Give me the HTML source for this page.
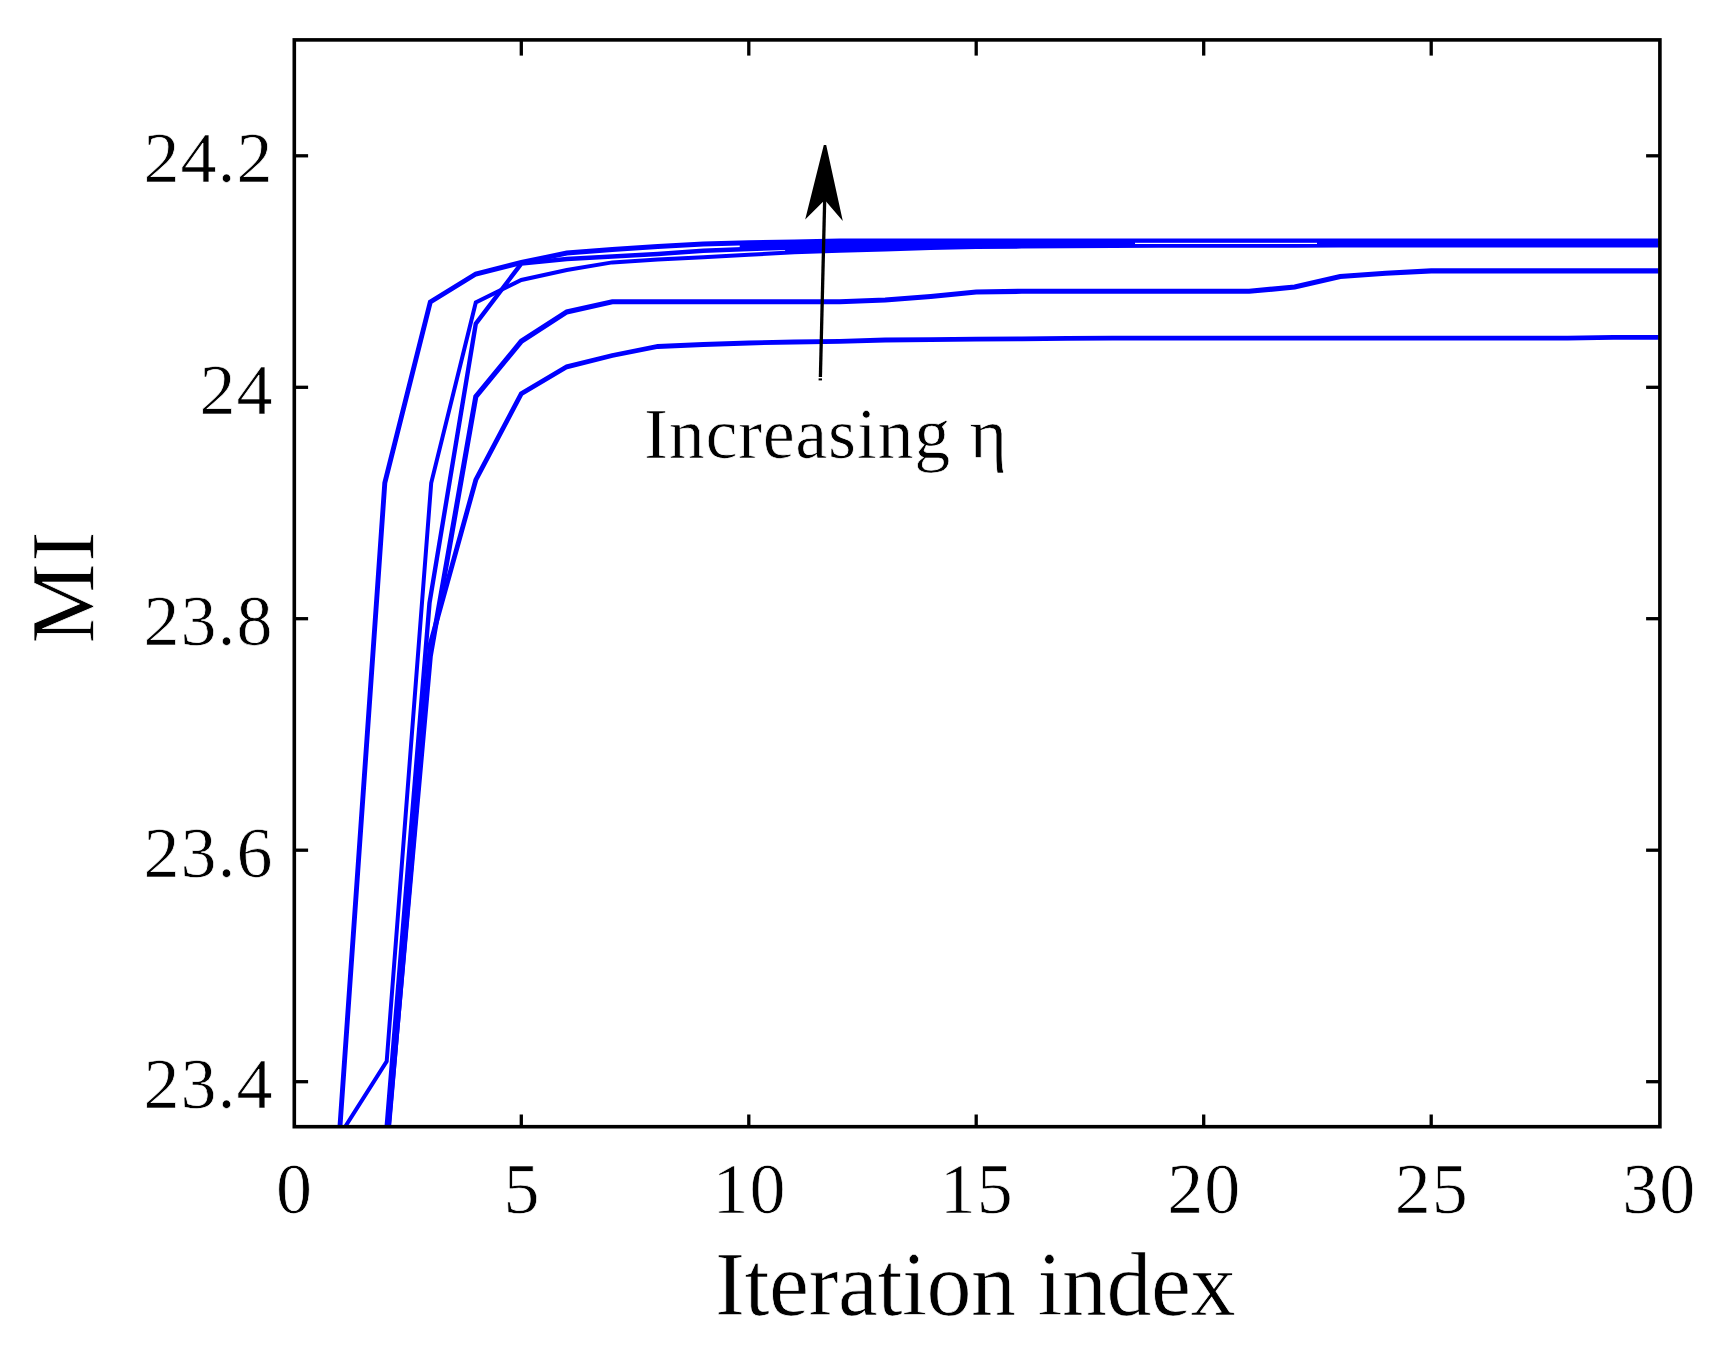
<!DOCTYPE html>
<html lang="en">
<head>
<meta charset="utf-8">
<title>MI versus iteration index</title>
<style>
html,body{margin:0;padding:0;background:#fff;}
body{width:1720px;height:1358px;overflow:hidden;}
svg{display:block;}
text{font-family:"Liberation Serif","Times New Roman",serif;fill:#000;stroke:#fff;stroke-width:0.7px;}
.tick text{font-size:72px;letter-spacing:1px;}
.lab{font-size:90px;letter-spacing:-0.5px;}
.ann{font-size:72px;letter-spacing:0.7px;}
</style>
</head>
<body>
<svg width="1720" height="1358" viewBox="0 0 1720 1358">
<rect x="0" y="0" width="1720" height="1358" fill="#fff"/>
<defs><clipPath id="ax"><rect x="294.3" y="39.9" width="1365.6000000000001" height="1086.8"/></clipPath></defs>
<g clip-path="url(#ax)" fill="none" stroke="#0000ff" stroke-width="4.6" stroke-linejoin="miter" stroke-linecap="butt">
<polygon points="785.1,242.2 794.2,242.0 839.7,240.9 885.2,240.9 930.7,240.9 976.2,240.9 1021.7,240.9 1067.2,240.9 1112.7,240.9 1158.2,240.9 1203.7,240.9 1249.2,240.9 1294.7,240.9 1340.2,240.9 1385.7,240.9 1431.2,240.9 1476.7,240.9 1522.2,240.9 1567.7,240.9 1613.2,240.9 1658.6,240.9 1658.6,245.4 1613.2,245.4 1567.7,245.4 1522.2,245.4 1476.7,245.4 1431.2,245.4 1385.7,245.4 1340.2,245.4 1294.7,245.8 1249.2,245.8 1203.7,245.8 1158.2,245.8 1112.7,245.9 1067.2,246.2 1021.7,246.6 976.2,247.0 930.7,248.0 885.2,249.5 839.7,250.8 794.2,252.3 785.1,252.8" fill="#0000ff" stroke="none"/>
<polygon points="739.7,243.0 748.8,242.8 794.2,242.0 839.7,240.9 885.2,240.9 930.7,240.9 976.2,240.9 1021.7,240.9 1067.2,240.9 1112.7,240.9 1158.2,240.9 1203.7,240.9 1249.2,240.9 1294.7,240.9 1340.2,240.9 1385.7,240.9 1431.2,240.9 1476.7,240.9 1522.2,240.9 1567.7,240.9 1613.2,240.9 1658.6,240.9 1658.6,242.6 1613.2,242.6 1567.7,242.6 1522.2,242.6 1476.7,242.6 1431.2,242.6 1385.7,242.6 1340.2,242.6 1294.7,241.2 1249.2,241.2 1203.7,241.2 1158.2,241.2 1112.7,242.0 1067.2,242.5 1021.7,243.0 976.2,243.8 930.7,244.6 885.2,245.7 839.7,246.5 794.2,247.5 748.8,249.0 739.7,249.3" fill="#0000ff" stroke="none"/>
<polyline stroke-width="4.8" points="384.8,1172.0 430.3,644.0 475.8,480.0 521.3,393.6 566.8,366.8 612.3,355.5 657.8,346.5 703.3,344.5 748.8,343.0 794.2,342.0 839.7,341.3 885.2,340.0 930.7,339.6 976.2,339.2 1021.7,338.8 1067.2,338.4 1112.7,338.1 1158.2,338.1 1203.7,338.1 1249.2,338.1 1294.7,338.1 1340.2,338.1 1385.7,338.1 1431.2,338.1 1476.7,338.1 1522.2,338.1 1567.7,338.1 1613.2,337.4 1658.6,337.4"/>
<polyline stroke-width="5.1" points="384.8,1165.0 430.3,656.0 475.8,396.7 521.3,341.3 566.8,311.9 612.3,301.8 657.8,301.8 703.3,301.8 748.8,301.8 794.2,301.8 839.7,301.8 885.2,300.0 930.7,296.5 976.2,292.0 1021.7,291.3 1067.2,291.3 1112.7,291.3 1158.2,291.3 1203.7,291.3 1249.2,291.3 1294.7,287.0 1340.2,276.5 1385.7,273.3 1431.2,270.9 1476.7,270.9 1522.2,270.9 1567.7,270.9 1613.2,270.9 1658.6,270.9"/>
<polyline stroke-width="4.4" points="384.8,1150.0 429.5,603.0 475.8,323.7 521.3,263.6 566.8,259.0 612.3,256.5 657.8,254.0 703.3,250.7 748.8,249.0 794.2,247.5 839.7,246.5 885.2,245.7 930.7,244.6 976.2,243.8 1021.7,243.0 1067.2,242.5 1112.7,242.0 1158.2,241.2 1203.7,241.2 1249.2,241.2 1294.7,241.2 1340.2,242.6 1385.7,242.6 1431.2,242.6 1476.7,242.6 1522.2,242.6 1567.7,242.6 1613.2,242.6 1658.6,242.6"/>
<polyline stroke-width="4.0" points="339.3,1136.0 386.7,1061.4 431.2,483.0 475.8,302.5 521.3,280.0 566.8,270.0 612.3,262.4 657.8,259.5 703.3,257.3 748.8,254.7 794.2,252.3 839.7,250.8 885.2,249.5 930.7,248.0 976.2,247.0 1021.7,246.6 1067.2,246.2 1112.7,245.9 1158.2,245.8 1203.7,245.8 1249.2,245.8 1294.7,245.8 1340.2,245.4 1385.7,245.4 1431.2,245.4 1476.7,245.4 1522.2,245.4 1567.7,245.4 1613.2,245.4 1658.6,245.4"/>
<polyline stroke-width="4.9" points="339.3,1136.0 384.8,483.0 430.3,302.0 475.8,274.0 521.3,262.5 566.8,253.0 612.3,249.5 657.8,246.5 703.3,244.0 748.8,242.8 794.2,242.0 839.7,240.9 885.2,240.9 930.7,240.9 976.2,240.9 1021.7,240.9 1067.2,240.9 1112.7,240.9 1158.2,240.9 1203.7,240.9 1249.2,240.9 1294.7,240.9 1340.2,240.9 1385.7,240.9 1431.2,240.9 1476.7,240.9 1522.2,240.9 1567.7,240.9 1613.2,240.9 1658.6,240.9"/>
<rect x="1135" y="242.8" width="182" height="1.2" fill="#fff" stroke="none"/>
</g>
<g stroke="#000" stroke-width="3.3" fill="none" stroke-linecap="butt">
<line x1="521.3" y1="39.9" x2="521.3" y2="55.6"/>
<line x1="521.3" y1="1126.7" x2="521.3" y2="1114.5"/>
<line x1="748.8" y1="39.9" x2="748.8" y2="55.6"/>
<line x1="748.8" y1="1126.7" x2="748.8" y2="1114.5"/>
<line x1="976.2" y1="39.9" x2="976.2" y2="55.6"/>
<line x1="976.2" y1="1126.7" x2="976.2" y2="1114.5"/>
<line x1="1203.7" y1="39.9" x2="1203.7" y2="55.6"/>
<line x1="1203.7" y1="1126.7" x2="1203.7" y2="1114.5"/>
<line x1="1431.2" y1="39.9" x2="1431.2" y2="55.6"/>
<line x1="1431.2" y1="1126.7" x2="1431.2" y2="1114.5"/>
<line x1="294.3" y1="155.8" x2="308.1" y2="155.8"/>
<line x1="1659.9" y1="155.8" x2="1646.1" y2="155.8"/>
<line x1="294.3" y1="387.3" x2="308.1" y2="387.3"/>
<line x1="1659.9" y1="387.3" x2="1646.1" y2="387.3"/>
<line x1="294.3" y1="618.7" x2="308.1" y2="618.7"/>
<line x1="1659.9" y1="618.7" x2="1646.1" y2="618.7"/>
<line x1="294.3" y1="850.2" x2="308.1" y2="850.2"/>
<line x1="1659.9" y1="850.2" x2="1646.1" y2="850.2"/>
<line x1="294.3" y1="1081.7" x2="308.1" y2="1081.7"/>
<line x1="1659.9" y1="1081.7" x2="1646.1" y2="1081.7"/>
</g>
<rect x="294.3" y="39.9" width="1365.6000000000001" height="1086.8" fill="none" stroke="#000" stroke-width="3.6"/>
<g>
<line x1="824.7" y1="199" x2="820.4" y2="377" stroke="#000" stroke-width="3.3"/>
<rect x="818.6" y="378.4" width="3.4" height="2" fill="#000"/>
<polygon points="823.8,145 826.2,145 842.8,221 824.8,200 805.2,219.5" fill="#000"/>
</g>
<g class="tick">
<text x="273.6" y="182.3" text-anchor="end">24.2</text>
<text x="273.6" y="413.8" text-anchor="end">24</text>
<text x="273.6" y="645.2" text-anchor="end">23.8</text>
<text x="273.6" y="876.7" text-anchor="end">23.6</text>
<text x="273.6" y="1108.2" text-anchor="end">23.4</text>
<text x="294.4" y="1212.5" text-anchor="middle">0</text>
<text x="521.9" y="1212.5" text-anchor="middle">5</text>
<text x="749.4" y="1212.5" text-anchor="middle">10</text>
<text x="976.8" y="1212.5" text-anchor="middle">15</text>
<text x="1204.3" y="1212.5" text-anchor="middle">20</text>
<text x="1431.8" y="1212.5" text-anchor="middle">25</text>
<text x="1659.2" y="1212.5" text-anchor="middle">30</text>
</g>
<text class="ann" x="644" y="458.4">Increasing η</text>
<text class="lab" x="975" y="1315.4" text-anchor="middle">Iteration index</text>
<text class="lab" style="letter-spacing:2px" transform="translate(94.3,586.5) rotate(-90)" text-anchor="middle">MI</text>
</svg>
</body>
</html>
